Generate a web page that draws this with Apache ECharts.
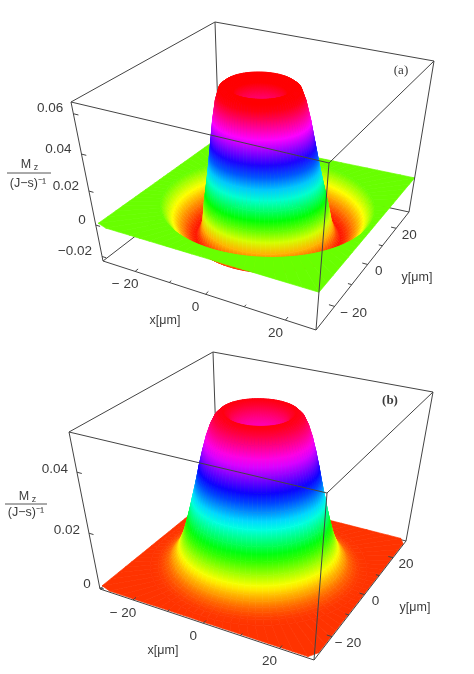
<!DOCTYPE html>
<html>
<head>
<meta charset="utf-8">
<title>Mz surface</title>
<style>
html,body{margin:0;padding:0;background:#fff;}
#chart{width:474px;height:674px;}
</style>
<script src="https://cdn.jsdelivr.net/npm/echarts@6/dist/echarts.min.js"></script>
</head>
<body>
<div id="chart"></div>
<script>
// radial profiles (r in um, Mz)
var radiusA = [0, 2, 4, 5, 6, 7, 8, 9, 10, 11, 12, 13, 14, 15, 16, 17, 18, 19, 20, 21, 22, 23, 24, 25, 26];
var mzA = [0.051, 0.052, 0.055, 0.057, 0.0595, 0.062, 0.063, 0.0615, 0.0555, 0.046, 0.034, 0.022, 0.011, 0.0005, -0.012, -0.018, -0.0205, -0.0195, -0.0175, -0.015, -0.0125, -0.0095, -0.0065, -0.003, 0];
var radiusB = [0, 2, 4, 5, 6, 7, 8, 9, 10, 11, 12, 13, 14, 15, 16, 17, 18, 19, 20, 21, 22, 23, 24, 25, 26, 28];
var mzB = [0.0455, 0.0455, 0.046, 0.047, 0.0485, 0.0505, 0.0515, 0.0512, 0.05, 0.0475, 0.044, 0.0395, 0.0345, 0.029, 0.024, 0.019, 0.0145, 0.0105, 0.0075, 0.005, 0.0035, 0.002, 0.0012, 0.0006, 0.0002, 0];

var xTicks = [-20, 0, 20];
var xTickLabels = ['\u2212 20', '0', '20'];
var yTicks = [-20, 0, 20];
var yTickLabels = ['\u2212 20', '0', '20'];
var minorTicks = [-10, 10];
var zTicksA = [-0.02, 0, 0.02, 0.04, 0.06];
var zTickLabelsA = ['\u22120.02', '0', '0.02', '0.04', '0.06'];
var zTicksB = [0, 0.02, 0.04];
var zTickLabelsB = ['0', '0.02', '0.04'];

var EDGE = 30, SECTORS = 90;
var LINE = '#444', TEXT = '#3c3c3c', FONT = '"Liberation Sans",Arial,sans-serif';

// box corners on the page, axis ranges and hue range of each panel
var panelA = {
	name: 'a', radius: radiusA, mz: mzA,
	zTicks: zTicksA, zLabels: zTickLabelsA,
	xMin: -30, xMax: 27, centerX: 0, lean: -32,
	zMin: -0.023, zMax: 0.0655, topWeight: 0.831, depthZ: 339,
	hueLow: -0.0215, hueHigh: 0.0595,
	bottom: [[103, 261], [316, 330], [409, 212], [220, 171]],
	top: [[71, 102], [329, 163], [434, 61], [215, 22]],
	xOff: [-10, 13], yOff: [15, 7], zOff: [-10, -5], yNudge: [4, -4, -2]
};
var panelB = {
	name: 'b', radius: radiusB, mz: mzB,
	zTicks: zTicksB, zLabels: zTickLabelsB,
	xMin: -30, xMax: 28.5, centerX: -1, lean: 0,
	zMin: -0.0005, zMax: 0.052, topWeight: 0.86, depthZ: 546,
	hueLow: -0.0018, hueHigh: 0.052,
	bottom: [[100, 589], [314, 660], [406, 541], [218, 493]],
	top: [[69, 432], [327, 493], [433, 392], [213, 352]],
	xOff: [-10, 13], yOff: [15, 7], zOff: [-9, -3], yNudge: [1, -4, -2]
};

// unit square -> quad, L F R B order
function quadMap(q) {
	var x0 = q[0][0], y0 = q[0][1], x1 = q[1][0], y1 = q[1][1], x2 = q[2][0], y2 = q[2][1], x3 = q[3][0], y3 = q[3][1];
	var dx1 = x1 - x2, dx2 = x3 - x2, sx = x0 - x1 + x2 - x3;
	var dy1 = y1 - y2, dy2 = y3 - y2, sy = y0 - y1 + y2 - y3;
	var den = dx1 * dy2 - dx2 * dy1;
	var g = (sx * dy2 - dx2 * sy) / den, h = (dx1 * sy - sx * dy1) / den;
	var a = x1 - x0 + g * x1, b = x3 - x0 + h * x3, d = y1 - y0 + g * y1, e = y3 - y0 + h * y3;
	return function (u, v) {
		var w = g * u + h * v + 1;
		return [(a * u + b * v + x0) / w, (d * u + e * v + y0) / w];
	};
}

function makeProjection(p) {
	var low = quadMap(p.bottom), high = quadMap(p.top);
	return function (x, y, z) {
		var u = (x - p.xMin) / (p.xMax - p.xMin), v = (y + EDGE) / (2 * EDGE);
		var t = (z - p.zMin) / (p.zMax - p.zMin);
		var s = t * p.topWeight / ((1 - t) + t * p.topWeight);
		var a = low(u, v), b = high(u, v);
		return [a[0] + (b[0] - a[0]) * s, a[1] + (b[1] - a[1]) * s];
	};
}

function hueColor(p, z) {
	var h = (z - p.hueLow) / (p.hueHigh - p.hueLow);
	h = Math.max(0, Math.min(1, h));
	return 'hsl(' + (h * 360).toFixed(1) + ',100%,50%)';
}

// ring vertex; the last ring is pushed out to the plot edge
function ringPoint(p, i, j) {
	var th = j / SECTORS * 2 * Math.PI;
	var c = Math.cos(th), s = Math.sin(th);
	if (i == p.radius.length) {
		var r = EDGE / Math.abs(s || 1e-9);
		if (c > 0) r = Math.min(r, p.xMax / c);
		if (c < 0) r = Math.min(r, p.xMin / c);
		return [r * c, r * s, p.mz[i - 1]];
	}
	var z = p.mz[i];
	return [p.radius[i] * c + p.centerX + p.lean * z, p.radius[i] * s, z];
}

function surfaceSeries(p) {
	var project = makeProjection(p);
	var cells = [];
	for (var i = 0; i < p.radius.length; i++) {
		for (var j = 0; j < SECTORS; j++) {
			var a = ringPoint(p, i, j), b = ringPoint(p, i, j + 1), c = ringPoint(p, i + 1, j + 1), d = ringPoint(p, i + 1, j);
			var mx = (a[0] + b[0] + c[0] + d[0]) / 4, my = (a[1] + b[1] + c[1] + d[1]) / 4, mz = (a[2] + b[2] + c[2] + d[2]) / 4;
			cells.push([i, j, 0.81 * (1.15 * mx - 1.97 * my) / 2.28 + p.depthZ * mz]);
		}
	}
	// painter order, far cells first
	cells.sort(function (m, n) { return m[2] - n[2]; });
	return {
		type: 'custom', z: 2, silent: true, animation: false, progressive: 0, clip: false,
		data: cells,
		renderItem: function (params, api) {
			var i = api.value(0), j = api.value(1);
			var q = [ringPoint(p, i, j), ringPoint(p, i, j + 1), ringPoint(p, i + 1, j + 1), ringPoint(p, i + 1, j)];
			var pts = q.map(function (v) {
				return api.coord(project(v[0], v[1], v[2]));
			});
			var zIn = q[0][2], zOut = q[2][2];
			var inner = [(pts[0][0] + pts[1][0]) / 2, (pts[0][1] + pts[1][1]) / 2];
			var outer = [(pts[2][0] + pts[3][0]) / 2, (pts[2][1] + pts[3][1]) / 2];
			var len = Math.abs(inner[0] - outer[0]) + Math.abs(inner[1] - outer[1]);
			var fill;
			if (len < 0.5 || zIn == zOut) {
				fill = hueColor(p, (zIn + zOut) / 2);
			} else {
				fill = new echarts.graphic.LinearGradient(inner[0], inner[1], outer[0], outer[1], [
					{offset: 0, color: hueColor(p, zIn)},
					{offset: 0.5, color: hueColor(p, (zIn + zOut) / 2)},
					{offset: 1, color: hueColor(p, zOut)}
				], true);
			}
			return {
				type: 'polygon',
				shape: {points: pts},
				style: {fill: fill, stroke: fill, lineWidth: 0.7}
			};
		}
	};
}

function boxSeries(p, front) {
	var lo = p.zMin, hi = p.zMax;
	var L = [p.xMin, -EDGE], F = [p.xMax, -EDGE], R = [p.xMax, EDGE], B = [p.xMin, EDGE];
	var edges = front ?
		[[L, hi, F, hi], [F, hi, R, hi], [L, lo, L, hi], [F, lo, F, hi], [R, lo, R, hi], [L, lo, F, lo], [F, lo, R, lo]] :
		[[L, hi, B, hi], [B, hi, R, hi], [B, lo, B, hi], [L, lo, B, lo], [R, lo, B, lo]];
	var project = makeProjection(p);
	return {
		type: 'custom', z: front ? 3 : 1, silent: true, animation: false, clip: false,
		data: edges.map(function (e, k) { return [k, 0]; }),
		renderItem: function (params, api) {
			var e = edges[api.value(0)];
			var a = api.coord(project(e[0][0], e[0][1], e[1])), b = api.coord(project(e[2][0], e[2][1], e[3]));
			return {
				type: 'line',
				shape: {x1: a[0], y1: a[1], x2: b[0], y2: b[1]},
				style: {stroke: LINE, lineWidth: 1}
			};
		}
	};
}

// one tick: position on the edge, inward direction, optional label
function tickSeries(p) {
	var project = makeProjection(p);
	var ticks = [];
	xTicks.forEach(function (v, k) { ticks.push([v, -EDGE, p.zMin, 0, 1.3, xTickLabels[k], p.xOff, 0]); });
	yTicks.forEach(function (v, k) { ticks.push([p.xMax, v, p.zMin, -1.3, 0, yTickLabels[k], p.yOff, p.yNudge[k]]); });
	minorTicks.forEach(function (v) {
		ticks.push([v, -EDGE, p.zMin, 0, 0.9, '', p.xOff, 0]);
		ticks.push([p.xMax, v, p.zMin, -0.9, 0, '', p.yOff, 0]);
	});
	p.zTicks.forEach(function (v, k) { ticks.push([p.xMin, -EDGE, v, 1.3, 0, p.zLabels[k], p.zOff, 0]); });
	return {
		type: 'custom', z: 4, silent: true, animation: false, clip: false,
		data: ticks.map(function (t, k) { return [k, 0]; }),
		renderItem: function (params, api) {
			var t = ticks[api.value(0)];
			var a = api.coord(project(t[0], t[1], t[2])), b = api.coord(project(t[0] + t[3], t[1] + t[4], t[2]));
			var kids = [{
				type: 'line',
				shape: {x1: a[0], y1: a[1], x2: b[0], y2: b[1]},
				style: {stroke: LINE, lineWidth: 1}
			}];
			if (t[5]) {
				kids.push({
					type: 'text',
					x: a[0] + t[6][0] + t[7], y: a[1] + t[6][1],
					style: {
						text: t[5], fill: TEXT, font: '13.5px ' + FONT,
						textAlign: t[6] == p.zOff ? 'right' : 'center', textVerticalAlign: 'middle'
					}
				});
			}
			return {type: 'group', children: kids};
		}
	};
}

function label(text, x, y, size, extra) {
	return {
		type: 'text', x: x, y: y, silent: true, z: 10,
		style: Object.assign({
			text: text, fill: TEXT, font: size + 'px ' + FONT,
			textAlign: 'center', textVerticalAlign: 'middle'
		}, extra || {})
	};
}

function axisTitles(dx, dy, yMz, yLine, yDen, lineW) {
	return [
		label('x[\u03bcm]', 165 + dx, 321 + dy, 12.5),
		label('y[\u03bcm]', 417 + dx, 278 + dy, 12.5),
		label('M', 26 + dx, yMz, 12.5),
		label('z', 36 + dx, yMz + 3, 9),
		{type: 'line', silent: true, z: 10, shape: {x1: 7 + dx, y1: yLine, x2: 7 + dx + lineW, y2: yLine}, style: {stroke: '#555', lineWidth: 1}},
		label('(J\u2212s)\u207b\u00b9', 28 + dx, yDen, 12.5)
	];
}

var series = [];
[panelA, panelB].forEach(function (p) {
	series.push(boxSeries(p, false), surfaceSeries(p), boxSeries(p, true), tickSeries(p));
});

var myChart = echarts.init(document.getElementById('chart'), null, {renderer: 'canvas'});
myChart.setOption({
	animation: false,
	backgroundColor: '#fff',
	grid: {left: 0, right: 0, top: 0, bottom: 0},
	xAxis: {type: 'value', min: 0, max: 474, show: false},
	yAxis: {type: 'value', min: 0, max: 674, inverse: true, show: false},
	graphic: axisTitles(0, 0, 165, 173, 184, 44)
		.concat(axisTitles(-2, 330, 497, 504, 513, 42))
		.concat([
			label('(a)', 401, 71, 13, {font: '13px "Liberation Serif",serif'}),
			label('(b)', 390, 401, 13, {font: 'bold 13px "Liberation Serif",serif'})
		]),
	series: series
});
</script>
</body>
</html>
